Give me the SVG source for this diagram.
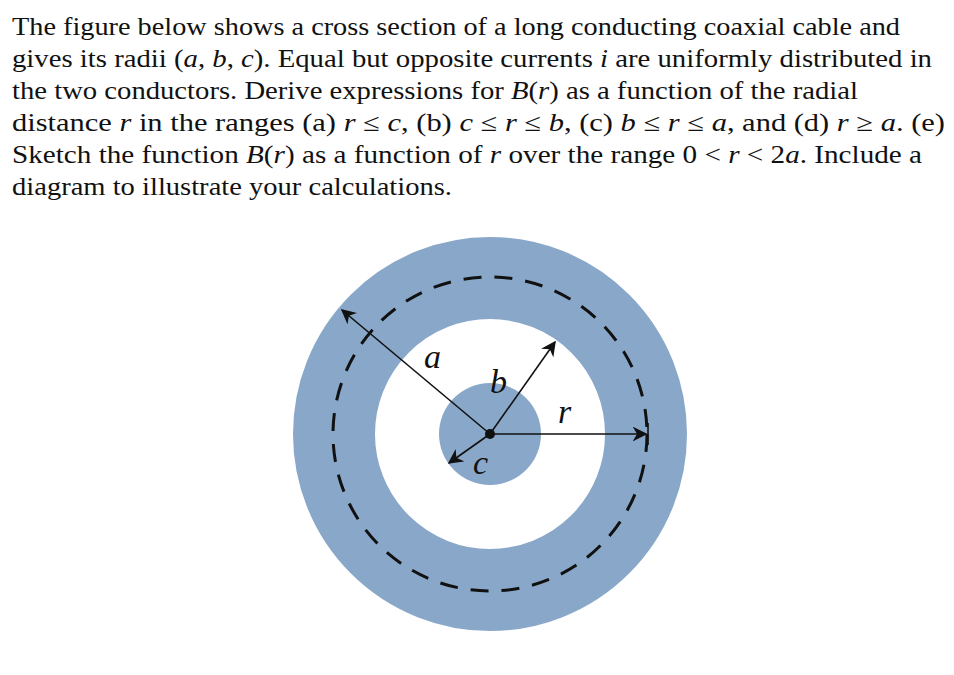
<svg xmlns="http://www.w3.org/2000/svg" width="954" height="675" viewBox="0 0 954 675">
<style>
.t{font-family:"Liberation Serif","DejaVu Serif",serif;font-size:25px;fill:#111}
.i{font-style:italic}
.l{font-family:"Liberation Serif",serif;font-style:italic;font-size:34px;fill:#111}
.ln{stroke:#111;stroke-width:1.6;fill:none}
</style>
<defs>
<marker id="ah" viewBox="0 0 10 10" refX="9" refY="5" markerWidth="15" markerHeight="15" markerUnits="userSpaceOnUse" orient="auto"><path d="M0,0 L10,5 L0,10 L3,5 Z" fill="#111"/></marker>
</defs>
<rect width="954" height="675" fill="#fff"/>
<g id="text">
<text class="t" x="12" y="35" textLength="888" lengthAdjust="spacingAndGlyphs">The figure below shows a cross section of a long conducting coaxial cable and</text>
<text class="t" x="12" y="67" textLength="920" lengthAdjust="spacingAndGlyphs">gives its radii (<tspan class="i">a</tspan>, <tspan class="i">b</tspan>, <tspan class="i">c</tspan>). Equal but opposite currents <tspan class="i">i</tspan> are uniformly distributed in</text>
<text class="t" x="12" y="99" textLength="846" lengthAdjust="spacingAndGlyphs">the two conductors. Derive expressions for <tspan class="i">B</tspan>(<tspan class="i">r</tspan>) as a function of the radial</text>
<text class="t" x="12" y="131" textLength="933" lengthAdjust="spacingAndGlyphs">distance <tspan class="i">r</tspan> in the ranges (a) <tspan class="i">r</tspan> ≤ <tspan class="i">c</tspan>, (b) <tspan class="i">c</tspan> ≤ <tspan class="i">r</tspan> ≤ <tspan class="i">b</tspan>, (c) <tspan class="i">b</tspan> ≤ <tspan class="i">r</tspan> ≤ <tspan class="i">a</tspan>, and (d) <tspan class="i">r</tspan> ≥ <tspan class="i">a</tspan>. (e)</text>
<text class="t" x="12" y="163" textLength="910" lengthAdjust="spacingAndGlyphs">Sketch the function <tspan class="i">B</tspan>(<tspan class="i">r</tspan>) as a function of <tspan class="i">r</tspan> over the range 0 &lt; <tspan class="i">r</tspan> &lt; 2<tspan class="i">a</tspan>.  Include a</text>
<text class="t" x="12" y="195" textLength="440" lengthAdjust="spacingAndGlyphs">diagram to illustrate your calculations.</text>
</g>
<g id="outer-conductor"><circle cx="490" cy="434" r="156" fill="none" stroke="#89a8c9" stroke-width="82"/></g>
<g id="inner-conductor"><circle cx="490" cy="434" r="51" fill="#89a8c9"/></g>
<g id="amperian-loop"><circle cx="490" cy="434" r="157" fill="none" stroke="#111" stroke-width="3" stroke-dasharray="18,13"/></g>
<g id="connectors">
<line class="ln" x1="490" y1="434" x2="342" y2="310" marker-end="url(#ah)"/>
<line class="ln" x1="490" y1="434" x2="555" y2="342" marker-end="url(#ah)"/>
<line class="ln" x1="490" y1="434" x2="449" y2="463" marker-end="url(#ah)"/>
<line class="ln" x1="490" y1="434" x2="646" y2="434" marker-end="url(#ah)"/>
<line class="ln" x1="648" y1="423" x2="648" y2="445" stroke-width="2"/>
<circle cx="490" cy="434" r="5" fill="#111"/>
</g>
<g id="labels">
<text class="l" x="424" y="368">a</text>
<text class="l" x="490" y="393">b</text>
<text class="l" x="558" y="423">r</text>
<text class="l" x="473" y="474">c</text>
</g>
</svg>
